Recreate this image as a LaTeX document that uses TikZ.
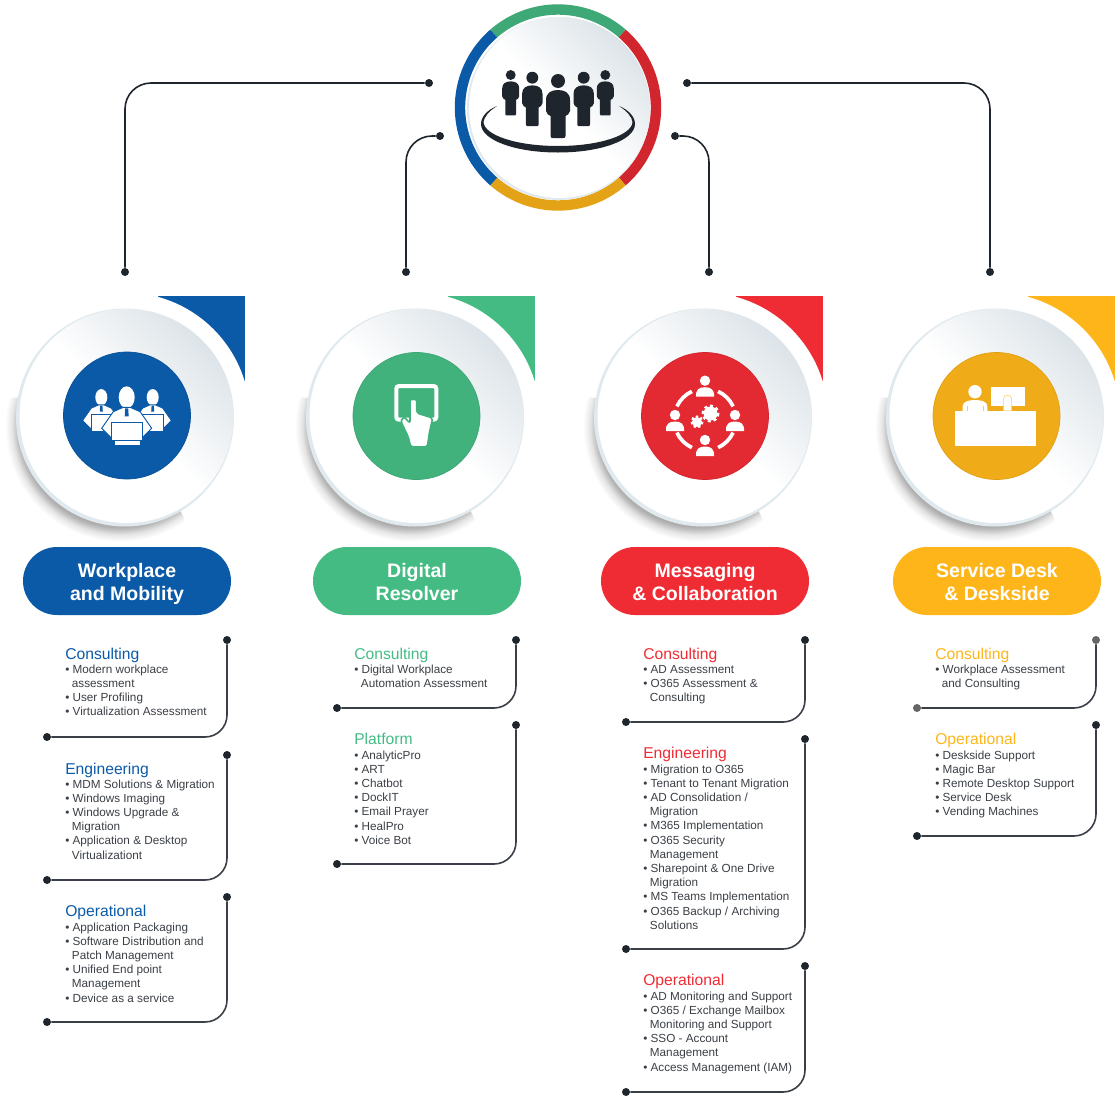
\documentclass[tikz,border=0pt]{standalone}
\usepackage{fontspec}
\setmainfont{Liberation Sans}
\definecolor{wmblue}{HTML}{0B5AA8}
\definecolor{drgreen}{HTML}{45BB84}
\definecolor{mcred}{HTML}{EF2B34}
\definecolor{sdyellow}{HTML}{FDB519}
\definecolor{discgrey}{HTML}{DDE4E9}
\definecolor{discrim}{HTML}{E0EAEE}
\definecolor{wirecol}{HTML}{3A3F47}
\definecolor{hubcol}{HTML}{1E252C}
\definecolor{bodytext}{HTML}{3A3F45}
\pgfdeclareradialshading{discshadow}{\pgfpoint{0bp}{0bp}}{color(0bp)=(black!48); color(19bp)=(black!48); color(22bp)=(black!30); color(23.5bp)=(black!10); color(25bp)=(white); color(50bp)=(white)}
\newcommand{\wrapline}{\hspace*{5pt}}
\tikzset{
  wire/.style={color=wirecol,line width=1.2pt,rounded corners=16.5pt},
  hubwire/.style={color=hubcol,line width=1.2pt,rounded corners=19.5pt},
  dotmark/.style={circle,fill=hubcol,inner sep=0pt,minimum size=6pt},
  pill/.style={rounded corners=25.5pt,minimum width=156pt,minimum height=51pt,inner sep=0pt,
    text=white,align=center,font=\fontsize{14.65pt}{17.25pt}\selectfont\bfseries,
    text height=32.7pt,text depth=3.5pt},
  head/.style={anchor=base west,inner sep=0pt,font=\fontsize{11.75pt}{14pt}\selectfont},
  itemlist/.style={anchor=north west,inner sep=0pt,align=left,text=bodytext,
    font=\fontsize{8.8pt}{10.65pt}\selectfont},
  ringarc/.style={line width=7.8pt},
  pics/discbase/.style={code={
    \fill[#1] (33,-121.5) rectangle (120,-36.5);
    \fill[white] (0,0) circle (125);
    \begin{scope}
      \clip (-150,-20) -- (0,-20) -- (70,123) -- (70,150) -- (-150,150) -- cycle;
      \shade[shading=discshadow] (-5,9) circle (115);
    \end{scope}
    \fill[discrim] (0,0) circle (109);
    \shade[top color=discgrey,bottom color=white,middle color=white,shading angle=-45] (1.5,-1.5) circle (107);
  }},
  pics/person/.style={code={
    \fill[hubcol] (0,0) circle (7);
    \fill[hubcol] (-12,30) -- (-12,19) .. controls (-12,12) and (-7,9) .. (0,9) .. controls (7,9) and (12,12) .. (12,19)
      -- (12,30) .. controls (12,33) and (9,34) .. (7.5,35) -- (7.5,55) .. controls (7.5,57) and (6,57) .. (5,57)
      -- (-5,57) .. controls (-6,57) and (-7.5,57) .. (-7.5,55) -- (-7.5,35) .. controls (-9,34) and (-12,33) .. (-12,30) -- cycle;
  }},
  pics/bust/.style={code={
    \fill[white] (0,0) circle (5.2);
    \fill[white] (-9,16) .. controls (-9.5,9) and (-6,6.5) .. (0,6.5) .. controls (6,6.5) and (9.5,9) .. (9,16) -- cycle;
  }},
  pics/officer/.style={code={
    \fill[white] (0,0) ellipse (8 and 11);
    \filldraw[fill=white,draw=wmblue,line width=.7pt] (-25,31) -- (-13.4,14.4) -- (-3.4,10) -- (3.4,10) -- (13.4,14.4)
      -- (25,31) -- (15,41) -- (-15,41) -- cycle;
    \fill[wmblue] (-1.5,11) -- (1.5,11) -- (2,19) -- (-2,19) -- cycle;
  }}
}
\begin{document}
\begin{tikzpicture}[x=0.75pt,y=-0.75pt]
  \useasboundingbox (0,0) rectangle (1116,1096);

  %hub
  \coordinate (c0) at (558,107.5);
  \draw[ringarc,drgreen!90!black] (c0) ++(-131:98) arc[start angle=-131,end angle=-49,radius=98];
  \draw[ringarc,mcred!88!black] (c0) ++(-49:98) arc[start angle=-49,end angle=49,radius=98];
  \draw[ringarc,sdyellow!90!black] (c0) ++(49:98) arc[start angle=49,end angle=131,radius=98];
  \draw[ringarc,wmblue] (c0) ++(131:98) arc[start angle=131,end angle=229,radius=98];
  \fill[discrim] (558.5,108.5) circle (91.5);
  \shade[top color=discgrey,bottom color=white,middle color=white,shading angle=-45] (559.5,107.5) circle (90.5);

  %pessoas do hub
  \pic at (510.7,75) [scale=.71] {person};
  \pic at (605.3,75) [scale=.71] {person};
  \pic at (532.3,77.7) [scale=.85] {person};
  \pic at (583.7,77.7) [scale=.85] {person};
  \pic at (558,81) {person};
  \fill[hubcol] (497,106) .. controls (487,110) and (481,117) .. (481,124) .. controls (481,140) and (515,152.5) .. (558,152.5)
    .. controls (601,152.5) and (635,140) .. (635,124) .. controls (635,117) and (629,110) .. (619,106)
    .. controls (627,111) and (632,117) .. (632.5,122) .. controls (632,135) and (600,146) .. (558,146)
    .. controls (516,146) and (484,135) .. (483.5,122) .. controls (484,117) and (489,111) .. (497,106) -- cycle;

  %fios do hub
  \node[dotmark] (h1) at (429,83) {};
  \node[dotmark] (h2) at (440,136) {};
  \node[dotmark] (h3) at (675,136) {};
  \node[dotmark] (h4) at (687,83) {};
  \node[dotmark] (t1) at (125,272) {};
  \node[dotmark] (t2) at (406,272) {};
  \node[dotmark] (t3) at (709,272) {};
  \node[dotmark] (t4) at (990,272) {};
  \draw[hubwire] (h1) -| (t1);
  \draw[hubwire] (h2) -| (t2);
  \draw[hubwire] (h3) -| (t3);
  \draw[hubwire] (h4) -| (t4);

  %discos
  \pic at (125,417.5) {discbase=wmblue};
  \pic at (415,417.5) {discbase=drgreen};
  \pic at (703,417.5) {discbase=mcred};
  \pic at (995,417.5) {discbase=sdyellow};
  \filldraw[wmblue,draw=wmblue!90!black,line width=.5pt] (127,415.5) circle (63.5);
  \filldraw[drgreen!95!black,draw=drgreen!88!black,line width=.5pt] (416.5,416) circle (63.5);
  \filldraw[mcred!95!black,draw=mcred!88!black,line width=.5pt] (705,416) circle (63.5);
  \filldraw[sdyellow!95!black,draw=sdyellow!88!black,line width=.5pt] (996.5,416) circle (63.5);

  %icone 1
  \pic at (101.3,397.3) [scale=.75] {officer};
  \pic at (152.7,397.3) [scale=.75] {officer};
  \filldraw[fill=white,draw=wmblue,line width=.5pt] (91,414) rectangle (112,431);
  \filldraw[fill=white,draw=wmblue,line width=.5pt] (142,414) rectangle (163,431);
  \pic at (126.7,397.3) {officer};
  \filldraw[fill=white,draw=wmblue,line width=.6pt] (111.7,422.3) rectangle (142.7,440);
  \filldraw[fill=white,draw=wmblue,line width=.6pt] (114,440) rectangle (140,445);

  %icone 2
  \draw[white,line width=3pt,rounded corners=2pt] (396.3,386) rectangle (436.3,419.7);
  \filldraw[fill=white,draw=drgreen!95!black,line width=1.2pt,rounded corners=1.5pt] (410,423) -- (410,402.5) .. controls (410,399) and (416.7,399) .. (416.7,402.5)
    -- (416.7,413) -- (432.7,418) -- (429.3,433) -- (427.3,447) -- (410.7,447) -- (408.3,436.7) -- (401,422)
    .. controls (402,418) and (405,418) .. (406,419) -- cycle;

  %icone 3
  \pic at (705,380.7) {bust};
  \pic at (705,440) {bust};
  \pic at (675,415) {bust};
  \pic at (735,415) {bust};
  \draw[white,line width=2.8pt] (705,419.5) ++(25:31) arc[start angle=25,end angle=65,radius=31];
  \draw[white,line width=2.8pt] (705,419.5) ++(115:31) arc[start angle=115,end angle=155,radius=31];
  \draw[white,line width=2.8pt] (705,419.5) ++(205:31) arc[start angle=205,end angle=245,radius=31];
  \draw[white,line width=2.8pt] (705,419.5) ++(295:31) arc[start angle=295,end angle=335,radius=31];
  \draw[white,line width=2pt,dash pattern=on 2.2pt off 2.2pt] (710.5,413.5) circle (7.6);
  \fill[white] (710.5,413.5) circle (7);
  \draw[white,line width=1.6pt,dash pattern=on 1.8pt off 1.8pt] (697,422) circle (5.5);
  \fill[white] (697,422) circle (5);

  %icone 4
  \fill[white] (990.7,387.3) rectangle (1025,406);
  \filldraw[fill=white,draw=sdyellow!70,line width=.4pt] (1003.3,410.7) -- (1003.3,399) .. controls (1003.3,394) and (1011.7,394) .. (1011.7,399) -- (1011.7,410.7);
  \fill[white] (975,391.7) circle (6.7);
  \fill[white] (962.7,412) -- (962.7,406) .. controls (962.7,402) and (968,400) .. (975,400) .. controls (982,400) and (987.3,402) .. (987.3,406) -- (987.3,412) -- cycle;
  \fill[white] (955,410.7) rectangle (1036,445.7);
  \draw[sdyellow!70,line width=.5pt] (967.5,405.5) -- (967.5,411);
  \draw[sdyellow!70,line width=.5pt] (983,405.5) -- (983,411);

  %titulos
  \node[pill,fill=wmblue] (wmTitle) at (127,581) {Workplace\\and Mobility};
  \node[pill,fill=drgreen] (drTitle) at (417,581) {Digital\\Resolver};
  \node[pill,fill=mcred] (mcTitle) at (705,581) {Messaging\\\& Collaboration};
  \node[pill,fill=sdyellow] (sdTitle) at (997,581) {Service Desk\\\& Deskside};

  %coluna 1
  \node[head,text=wmblue] (wmCons) at (65,659) {Consulting};
  \node[itemlist] (wmConsList) at (65,664.4) {• Modern workplace\\\wrapline assessment\\• User Profiling\\• Virtualization Assessment};
  \node[head,text=wmblue] (wmEng) at (65,774) {Engineering};
  \node[itemlist] (wmEngList) at (65,779.4) {• MDM Solutions \& Migration\\• Windows Imaging\\• Windows Upgrade \&\\\wrapline Migration\\• Application \& Desktop\\\wrapline Virtualizationt};
  \node[head,text=wmblue] (wmOp) at (65,916) {Operational};
  \node[itemlist] (wmOpList) at (65,922.4) {• Application Packaging\\• Software Distribution and\\\wrapline Patch Management\\• Unified End point\\\wrapline Management\\• Device as a service};
  \node[dotmark] (a1) at (227,640) {};
  \node[dotmark] (a2) at (47,737) {};
  \node[dotmark] (a3) at (227,755) {};
  \node[dotmark] (a4) at (47,880) {};
  \node[dotmark] (a5) at (227,897) {};
  \node[dotmark] (a6) at (47,1022) {};
  \draw[wire] (a1) |- (a2);
  \draw[wire] (a3) |- (a4);
  \draw[wire] (a5) |- (a6);

  %coluna 2
  \node[head,text=drgreen] (drCons) at (354,659) {Consulting};
  \node[itemlist] (drConsList) at (354,664.4) {• Digital Workplace\\\wrapline Automation Assessment};
  \node[head,text=drgreen] (drPlat) at (354,744) {Platform};
  \node[itemlist] (drPlatList) at (354,750.4) {• AnalyticPro\\• ART\\• Chatbot\\• DockIT\\• Email Prayer\\• HealPro\\• Voice Bot};
  \node[dotmark] (b1) at (516,640) {};
  \node[dotmark] (b2) at (337,708) {};
  \node[dotmark] (b3) at (516,725) {};
  \node[dotmark] (b4) at (337,864) {};
  \draw[wire] (b1) |- (b2);
  \draw[wire] (b3) |- (b4);

  %coluna 3
  \node[head,text=mcred] (mcCons) at (643,659) {Consulting};
  \node[itemlist] (mcConsList) at (643,665) {• AD Assessment\\• O365 Assessment \&\\\wrapline Consulting};
  \node[head,text=mcred] (mcEng) at (643,758) {Engineering};
  \node[itemlist] (mcEngList) at (643,764.4) {• Migration to O365\\• Tenant to Tenant Migration\\• AD Consolidation /\\\wrapline Migration\\• M365 Implementation\\• O365 Security\\\wrapline Management\\• Sharepoint \& One Drive\\\wrapline Migration\\• MS Teams Implementation\\• O365 Backup / Archiving\\\wrapline Solutions};
  \node[head,text=mcred] (mcOp) at (643,985) {Operational};
  \node[itemlist] (mcOpList) at (643,991.4) {• AD Monitoring and Support\\• O365 / Exchange Mailbox\\\wrapline Monitoring and Support\\• SSO - Account\\\wrapline Management\\• Access Management (IAM)};
  \node[dotmark] (e1) at (805,640) {};
  \node[dotmark] (e2) at (626,722) {};
  \node[dotmark] (e3) at (805,739) {};
  \node[dotmark] (e4) at (626,949) {};
  \node[dotmark] (e5) at (805,966) {};
  \node[dotmark] (e6) at (626,1092) {};
  \draw[wire] (e1) |- (e2);
  \draw[wire] (e3) |- (e4);
  \draw[wire] (e5) |- (e6);

  %coluna 4
  \node[head,text=sdyellow] (sdCons) at (935,659) {Consulting};
  \node[itemlist] (sdConsList) at (935,664.4) {• Workplace Assessment\\\wrapline and Consulting};
  \node[head,text=sdyellow] (sdOp) at (935,744) {Operational};
  \node[itemlist] (sdOpList) at (935,750.4) {• Deskside Support\\• Magic Bar\\• Remote Desktop Support\\• Service Desk\\• Vending Machines};
  \node[dotmark,fill=black!60] (g1) at (1096,640) {};
  \node[dotmark,fill=black!60] (g2) at (917,708) {};
  \node[dotmark] (g3) at (1096,725) {};
  \node[dotmark] (g4) at (917,836) {};
  \draw[wire] (g1) |- (g2);
  \draw[wire] (g3) |- (g4);
\end{tikzpicture}
\end{document}
